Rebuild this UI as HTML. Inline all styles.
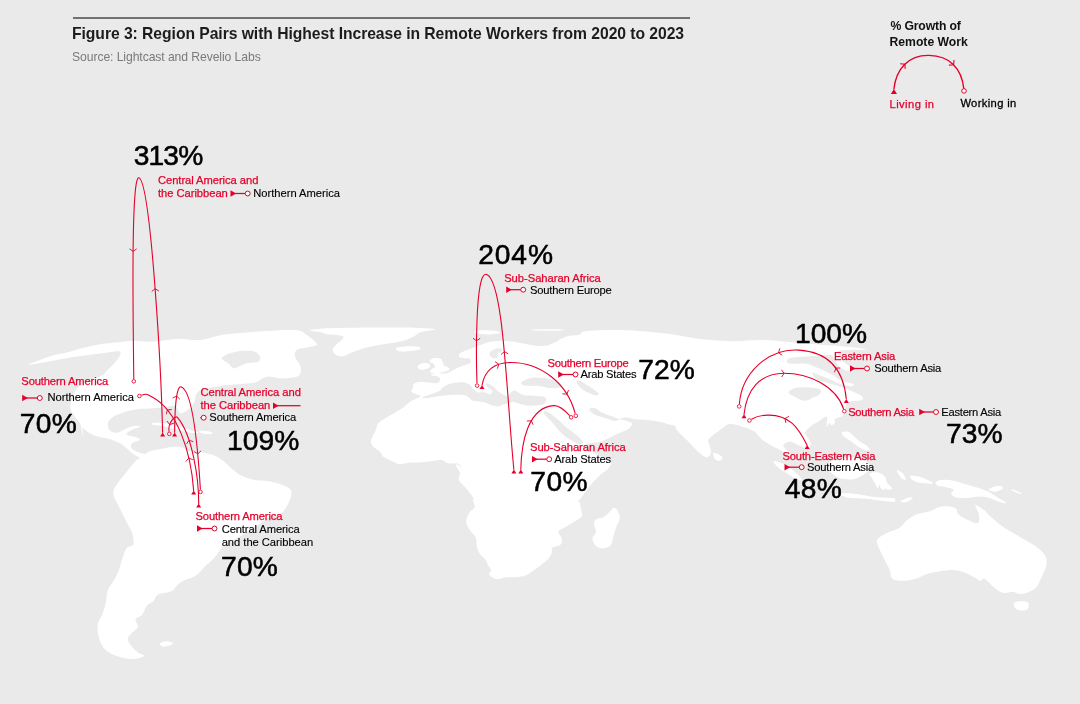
<!DOCTYPE html>
<html lang="en"><head><meta charset="utf-8"><title>Figure 3: Region Pairs with Highest Increase in Remote Workers</title>
<style>
html,body{margin:0;padding:0;}
body{width:1080px;height:704px;background:#eaeaea;position:relative;overflow:hidden;
 font-family:"Liberation Sans",Arial,sans-serif;}
svg#g{position:absolute;left:0;top:0;}
.t{position:absolute;white-space:nowrap;line-height:1;margin:0;}
.title{font-weight:bold;color:#1c1c1c;}
.src{color:#7a7a7a;}
.lgb{font-weight:bold;color:#111;}
.red{color:#e4002b;-webkit-text-stroke:0.25px #e4002b;}
.blk{color:#000;-webkit-text-stroke:0.12px #000;}
.blkm{color:#000;-webkit-text-stroke:0.3px #000;}
.big{color:#000;-webkit-text-stroke:0.55px #000;}
</style></head>
<body>
<svg id="g" width="1080" height="704" viewBox="0 0 1080 704">
<g id="map">
<path fill="#fff" d="M28.3 364.7C27.5 364.3 35.8 361.6 40.0 360.0C44.2 358.4 48.9 356.6 53.3 355.3C57.8 354.1 62.2 353.6 66.7 352.5C71.1 351.4 74.4 350.1 80.0 348.7C85.6 347.3 93.9 345.2 100.0 344.2C106.1 343.1 111.1 343.1 116.7 342.5C122.2 341.9 127.8 341.0 133.3 340.8C138.9 340.7 144.4 341.8 150.0 341.7C155.6 341.5 161.7 340.5 166.7 340.0C171.7 339.5 174.4 338.7 180.0 338.7C185.6 338.7 193.1 340.6 200.0 340.0C206.9 339.4 213.9 336.2 221.7 335.0C229.4 333.8 238.3 333.2 246.7 332.5C255.0 331.8 264.7 331.2 271.7 330.8C278.6 330.4 283.6 330.0 288.3 330.0C293.1 330.0 296.9 330.0 300.0 330.8C303.1 331.7 304.4 333.5 306.7 335.0C308.9 336.5 311.7 338.3 313.3 340.0C315.0 341.7 317.8 343.8 316.7 345.0C315.6 346.2 310.0 346.7 306.7 347.5C303.3 348.3 298.6 348.5 296.7 350.0C294.7 351.5 294.4 354.2 295.0 356.7C295.6 359.2 299.0 362.5 300.0 365.0C301.0 367.5 301.4 369.7 300.8 371.7C300.3 373.6 300.1 375.6 296.7 376.7C293.2 377.8 285.0 378.3 280.0 378.3C275.0 378.3 270.8 376.0 266.7 376.7C262.5 377.4 259.7 381.2 255.0 382.5C250.3 383.8 243.9 383.6 238.3 384.2C232.8 384.7 226.7 385.1 221.7 385.8C216.7 386.5 211.4 387.9 208.3 388.3C205.3 388.8 205.2 387.7 203.3 388.5C201.4 389.3 198.1 391.4 196.7 393.3C195.3 395.2 195.8 397.8 195.0 400.0C194.2 402.2 193.4 404.8 191.7 406.7C190.0 408.6 186.9 410.6 185.0 411.7C183.1 412.8 181.3 413.9 180.0 413.3C178.7 412.7 177.8 409.8 177.0 408.3C176.2 406.8 175.4 404.8 175.3 404.2C175.2 403.6 178.1 404.6 176.7 405.0C175.2 405.4 170.6 406.1 166.7 406.7C162.8 407.2 158.3 407.9 153.3 408.3C148.3 408.8 141.7 408.5 136.7 409.2C131.7 409.9 127.2 411.2 123.3 412.5C119.4 413.8 115.8 415.1 113.3 416.7C110.8 418.2 109.2 419.9 108.3 421.7C107.5 423.5 107.8 425.8 108.3 427.5C108.9 429.2 110.0 430.8 111.7 431.7C113.3 432.5 115.8 433.1 118.3 432.5C120.8 431.9 123.9 429.4 126.7 428.3C129.4 427.2 132.8 426.1 135.0 425.8C137.2 425.6 140.3 426.1 140.0 426.7C139.7 427.2 135.6 428.1 133.3 429.2C131.1 430.3 127.2 432.2 126.7 433.3C126.1 434.4 128.3 435.1 130.0 435.8C131.7 436.5 135.0 436.8 136.7 437.5C138.3 438.2 140.6 439.2 140.0 440.0C139.4 440.8 134.9 441.4 133.3 442.5C131.8 443.6 130.6 445.3 130.8 446.7C131.1 448.1 133.2 449.7 135.0 450.8C136.8 451.9 139.4 452.6 141.7 453.3C143.9 454.0 147.8 454.2 148.3 455.0C148.9 455.8 146.4 457.9 145.0 458.3C143.6 458.8 141.9 458.2 140.0 457.5C138.1 456.8 135.6 455.7 133.3 454.2C131.1 452.6 128.9 450.1 126.7 448.3C124.4 446.5 122.8 444.9 120.0 443.3C117.2 441.8 114.2 440.4 110.0 439.2C105.8 437.9 99.4 437.6 95.0 435.8C90.6 434.0 86.0 431.5 83.3 428.3C80.7 425.1 79.7 420.6 79.2 416.7C78.6 412.8 79.3 401.7 80.0 405.0C80.7 408.3 83.3 433.6 83.3 436.7C83.3 439.7 81.4 426.7 80.0 423.3C78.6 420.0 76.5 418.9 75.0 416.7C73.5 414.4 71.5 412.4 70.8 410.0C70.2 407.6 70.1 405.7 71.1 402.2C72.1 398.7 73.9 392.4 76.7 388.9C79.5 385.4 83.8 383.2 88.0 381.0C92.2 378.8 99.1 377.2 102.2 375.6C105.3 374.0 105.0 372.8 106.7 371.1C108.4 369.4 110.4 367.6 112.2 365.6C114.0 363.6 116.4 360.9 117.8 358.9C119.2 356.9 120.5 354.8 120.5 353.5C120.5 352.2 120.8 351.3 117.8 351.3C114.8 351.3 107.8 352.6 102.2 353.3C96.6 354.0 91.1 354.7 84.4 355.6C77.7 356.5 68.8 357.8 62.2 358.9C55.6 360.0 50.6 361.3 45.0 362.3C39.4 363.3 29.2 365.1 28.3 364.7Z M70.0 405.8C69.9 404.3 71.9 404.0 73.3 404.2C74.7 404.3 77.6 404.9 78.3 406.7C79.1 408.5 78.4 413.0 78.0 415.0C77.6 417.0 76.5 418.9 75.8 418.7C75.2 418.4 75.1 415.5 74.2 413.3C73.2 411.2 70.1 407.4 70.0 405.8Z M153.3 423.0C155.6 422.7 162.2 422.7 166.7 423.3C171.1 423.9 176.1 425.6 180.0 426.7C183.9 427.8 186.9 429.0 190.0 430.0C193.1 431.0 198.3 432.0 198.3 432.5C198.3 433.0 193.6 433.3 190.0 432.8C186.4 432.3 181.1 430.6 176.7 429.5C172.2 428.4 167.2 426.9 163.3 426.2C159.4 425.4 155.0 425.5 153.3 425.0C151.7 424.5 151.1 423.3 153.3 423.0Z M200.0 430.8C201.2 430.6 206.1 430.9 208.3 431.3C210.6 431.8 213.6 432.9 213.3 433.3C213.1 433.8 208.8 434.2 206.7 434.2C204.6 434.1 201.9 433.6 200.8 433.0C199.7 432.4 198.8 431.1 200.0 430.8Z M320.0 328.7C324.4 328.3 328.3 328.2 336.7 328.0C345.0 327.8 358.9 327.6 370.0 327.5C381.1 327.4 395.0 327.4 403.3 327.5C411.7 327.6 414.7 327.7 420.0 328.0C425.3 328.3 435.0 328.4 435.0 329.2C435.0 329.9 423.6 331.2 420.0 332.5C416.4 333.8 416.1 335.3 413.3 336.7C410.6 338.1 406.4 339.9 403.3 340.8C400.3 341.8 398.3 341.9 395.0 342.5C391.7 343.1 387.5 343.5 383.3 344.2C379.2 344.9 374.2 345.7 370.0 346.7C365.8 347.6 361.7 348.9 358.3 350.0C355.0 351.1 352.5 352.3 350.0 353.3C347.5 354.4 345.6 356.0 343.3 356.3C341.1 356.7 338.3 356.0 336.7 355.3C335.0 354.7 333.9 353.7 333.3 352.5C332.7 351.3 332.4 349.7 333.0 348.3C333.6 346.9 335.2 345.6 336.7 344.2C338.1 342.8 340.6 341.2 341.7 340.0C342.8 338.8 344.2 337.5 343.3 336.7C342.5 335.8 339.4 335.4 336.7 335.0C333.9 334.6 329.2 334.6 326.7 334.2C324.2 333.8 323.9 333.0 321.7 332.5C319.4 332.0 315.3 331.8 313.3 331.3C311.4 330.9 308.9 330.4 310.0 330.0C311.1 329.6 315.6 329.0 320.0 328.7Z M395.8 348.7C396.2 348.0 397.6 347.4 400.0 347.0C402.4 346.6 406.8 346.3 410.0 346.3C413.2 346.3 417.5 346.5 419.2 347.0C420.8 347.5 421.0 348.5 420.0 349.2C419.0 349.8 416.1 350.4 413.3 350.8C410.6 351.2 406.0 351.7 403.3 351.7C400.7 351.7 398.8 351.3 397.5 350.8C396.2 350.3 395.4 349.3 395.8 348.7Z M417.5 367.5C417.2 366.6 418.5 364.9 420.0 364.2C421.5 363.4 425.0 362.9 426.7 363.0C428.3 363.1 429.7 364.1 430.0 365.0C430.3 365.9 429.7 367.6 428.3 368.3C426.9 369.1 423.5 369.8 421.7 369.7C419.9 369.5 417.8 368.4 417.5 367.5Z M430.0 360.0C430.7 359.2 433.2 358.2 435.0 358.0C436.8 357.8 439.6 358.1 440.8 358.7C442.1 359.3 441.9 360.5 442.5 361.7C443.1 362.9 443.2 364.9 444.2 365.8C445.1 366.8 447.5 366.8 448.3 367.5C449.2 368.2 450.0 369.2 449.2 370.0C448.3 370.8 445.7 371.5 443.3 372.0C441.0 372.5 437.2 373.0 435.0 373.0C432.8 373.0 430.6 372.6 430.0 372.0C429.4 371.4 430.8 370.1 431.7 369.2C432.5 368.3 434.7 367.6 435.0 366.7C435.3 365.8 434.0 364.4 433.3 363.7C432.6 363.0 431.4 363.1 430.8 362.5C430.3 361.9 429.3 360.8 430.0 360.0Z M143.3 455.6C145.9 453.7 147.0 452.2 150.0 451.1C153.0 450.0 157.0 449.6 161.1 448.9C165.2 448.1 170.7 446.9 174.4 446.7C178.1 446.5 181.1 447.0 183.3 447.8C185.6 448.5 184.8 450.4 187.8 451.1C190.7 451.9 196.7 451.5 201.1 452.2C205.6 453.0 210.7 454.1 214.4 455.6C218.1 457.0 220.4 458.9 223.3 461.1C226.3 463.3 229.3 466.5 232.2 468.9C235.2 471.3 237.4 473.7 241.1 475.6C244.8 477.4 250.0 479.1 254.4 480.0C258.9 480.9 263.3 480.4 267.8 481.1C272.2 481.9 277.4 483.1 281.1 484.4C284.8 485.7 288.3 487.0 290.0 488.9C291.7 490.7 291.5 493.0 291.1 495.6C290.7 498.1 289.4 501.5 287.8 504.4C286.1 507.4 284.1 511.3 281.1 513.3C278.1 515.4 274.6 514.2 270.0 516.7C265.4 519.2 258.9 524.7 253.3 528.3C247.8 531.9 241.7 535.2 236.7 538.3C231.7 541.4 226.1 544.7 223.3 546.7C220.5 548.7 221.7 548.2 220.0 550.2C218.3 552.3 215.9 556.3 213.3 559.1C210.7 561.9 207.4 564.1 204.4 566.9C201.5 569.7 198.9 573.6 195.6 575.8C192.2 578.0 187.4 578.7 184.4 580.2C181.5 581.7 180.0 582.8 177.8 584.7C175.6 586.5 174.4 589.7 171.1 591.3C167.8 593.0 160.7 593.0 157.8 594.7C154.8 596.3 155.2 599.5 153.3 601.3C151.5 603.2 148.5 603.6 146.7 605.8C144.8 608.0 144.1 612.4 142.2 614.7C140.4 616.9 136.3 617.1 135.6 619.1C134.8 621.1 138.5 624.5 137.8 626.9C137.0 629.3 132.8 631.5 131.1 633.6C129.4 635.6 127.8 637.1 127.8 639.1C127.8 641.1 129.4 643.6 131.1 645.8C132.8 648.0 135.6 650.8 137.8 652.4C140.0 654.1 145.2 654.7 144.4 655.8C143.7 656.9 137.4 658.9 133.3 659.1C129.3 659.3 124.1 658.0 120.0 656.9C115.9 655.8 111.9 654.3 108.9 652.4C105.9 650.6 104.0 648.7 102.2 645.8C100.4 642.8 99.0 638.4 98.2 634.7C97.5 631.0 97.1 626.9 97.8 623.6C98.4 620.2 100.9 618.0 102.2 614.7C103.5 611.3 104.6 607.6 105.6 603.6C106.5 599.5 106.5 593.9 107.8 590.2C109.1 586.5 111.5 584.7 113.3 581.3C115.2 578.0 117.4 573.9 118.9 570.2C120.4 566.5 120.9 562.8 122.2 559.1C123.5 555.4 124.8 550.4 126.7 548.0C128.5 545.6 132.4 546.9 133.3 544.4C134.3 542.0 133.1 536.7 132.2 533.3C131.3 530.0 129.3 527.4 127.8 524.4C126.3 521.5 124.8 518.5 123.3 515.6C121.9 512.6 120.4 509.6 118.9 506.7C117.4 503.7 115.4 500.4 114.4 497.8C113.5 495.2 113.0 493.3 113.3 491.1C113.7 488.9 114.6 487.4 116.7 484.4C118.7 481.5 122.6 477.0 125.6 473.3C128.5 469.6 131.5 465.2 134.4 462.2C137.4 459.3 140.7 457.4 143.3 455.6Z M160.0 643.6C160.7 642.7 164.5 641.4 166.7 641.3C168.8 641.3 172.5 642.4 172.9 643.1C173.3 643.9 170.7 645.3 168.9 645.8C167.1 646.3 163.7 646.6 162.2 646.2C160.7 645.9 159.3 644.4 160.0 643.6Z M420.0 396.7C421.4 395.6 419.7 395.8 418.3 395.0C416.9 394.2 412.5 393.1 411.7 391.7C410.8 390.3 413.1 387.9 413.3 386.7C413.6 385.4 412.5 384.9 413.3 384.2C414.2 383.4 415.8 382.4 418.3 382.2C420.8 381.9 425.3 382.3 428.3 382.5C431.4 382.7 434.7 383.8 436.7 383.3C438.6 382.9 439.7 381.1 440.0 380.0C440.3 378.9 439.4 377.4 438.3 376.7C437.2 376.0 434.6 376.2 433.3 375.8C432.1 375.4 430.3 374.6 430.8 374.2C431.4 373.7 434.0 373.1 436.7 373.0C439.3 372.9 443.9 373.8 446.7 373.3C449.4 372.8 451.4 371.0 453.3 370.0C455.3 369.0 456.4 368.3 458.3 367.5C460.3 366.7 463.1 365.7 465.0 365.0C466.9 364.3 469.0 364.2 470.0 363.3C471.0 362.5 470.8 361.0 470.8 360.0C470.8 359.0 467.8 357.9 470.0 357.5C472.2 357.1 482.6 357.5 484.1 357.8C485.6 358.0 480.8 358.4 478.9 359.1C476.9 359.7 473.9 361.8 472.4 361.7C470.9 361.6 471.8 359.1 469.8 358.4C467.9 357.8 462.5 358.5 460.7 357.8C459.0 357.0 458.6 355.1 459.4 353.9C460.3 352.7 463.6 351.7 465.9 350.6C468.3 349.6 470.9 348.5 473.7 347.4C476.5 346.3 479.8 345.1 482.8 344.2C485.8 343.2 488.6 342.1 491.9 341.6C495.1 341.0 498.8 340.9 502.2 340.9C505.7 340.9 509.1 341.1 512.6 341.6C516.1 342.0 519.5 342.9 523.0 343.5C526.4 344.2 529.9 345.0 533.3 345.5C536.8 345.9 540.9 346.3 543.7 346.1C546.5 346.0 548.0 345.3 550.2 344.6C552.3 343.8 554.7 342.6 556.7 341.6C558.6 340.5 559.7 339.3 561.9 338.3C564.0 337.4 566.6 336.4 569.6 335.7C572.7 335.1 577.4 335.2 580.0 334.4C582.6 333.7 579.2 332.0 585.0 331.2C590.8 330.5 605.4 330.0 615.0 330.0C624.6 330.0 633.8 330.6 642.5 331.2C651.2 331.9 659.6 332.7 667.5 333.8C675.4 334.8 682.9 336.5 690.0 337.5C697.1 338.5 702.5 339.4 710.0 340.0C717.5 340.6 726.4 341.2 735.0 341.2C743.6 341.2 753.1 339.9 761.7 340.0C770.3 340.1 779.9 341.1 786.7 341.7C793.4 342.2 795.9 342.8 802.2 343.3C808.5 343.9 817.0 344.4 824.4 345.0C831.9 345.6 839.6 346.0 846.7 346.7C853.7 347.4 866.3 348.7 866.7 349.2C867.0 349.8 853.7 349.6 848.9 350.0C844.1 350.4 838.9 349.9 837.8 351.7C836.7 353.4 839.6 357.6 842.2 360.6C844.8 363.5 851.9 367.6 853.3 369.4C854.8 371.3 853.3 372.0 851.1 371.7C848.9 371.3 843.0 369.6 840.0 367.2C837.0 364.8 835.2 359.3 833.3 357.2C831.5 355.1 831.7 355.0 828.9 354.8C826.1 354.5 821.1 355.3 816.7 355.7C812.2 356.0 806.7 356.4 802.2 356.8C797.8 357.1 792.6 357.2 790.0 357.9C787.4 358.6 786.7 360.1 786.7 361.1C786.7 362.1 786.9 363.2 790.0 363.7C793.1 364.1 801.1 363.0 805.6 363.7C810.0 364.3 812.6 365.8 816.7 367.4C820.7 369.1 825.7 371.3 830.0 373.6C834.3 375.8 838.3 379.4 842.2 381.1C846.1 382.8 851.9 383.0 853.3 383.9C854.8 384.8 853.3 386.3 851.1 386.3C848.9 386.4 843.9 385.4 840.0 384.1C836.1 382.8 831.7 380.2 827.8 378.6C823.9 376.9 819.3 375.1 816.7 374.1C814.1 373.1 812.2 371.9 812.2 372.8C812.2 373.7 814.3 377.8 816.7 379.4C819.1 381.1 822.4 381.5 826.7 382.8C830.9 384.1 837.4 385.6 842.2 387.2C847.0 388.9 852.1 391.1 855.6 392.8C859.0 394.4 862.0 395.9 862.8 397.2C863.5 398.5 862.3 399.8 860.0 400.6C857.7 401.3 851.3 400.7 848.9 401.7C846.5 402.6 846.5 403.9 845.6 406.1C844.6 408.3 844.8 413.0 843.3 415.0C841.9 417.0 838.9 417.2 836.7 418.3C834.4 419.4 831.7 420.3 830.0 421.7C828.3 423.1 827.2 427.5 826.7 426.7C826.1 425.8 828.1 417.5 826.7 416.7C825.3 415.8 821.1 420.0 818.3 421.7C815.6 423.3 812.2 424.7 810.0 426.7C807.8 428.6 805.3 431.4 805.0 433.3C804.7 435.3 807.4 436.4 808.3 438.3C809.3 440.3 811.1 443.3 810.8 445.0C810.6 446.7 808.8 448.3 806.7 448.3C804.6 448.3 801.1 446.1 798.3 445.0C795.6 443.9 792.5 441.7 790.0 441.7C787.5 441.7 783.9 443.6 783.3 445.0C782.8 446.4 785.0 447.9 786.7 450.0C788.3 452.1 792.8 456.7 793.3 457.5C793.9 458.3 791.7 456.0 790.0 455.0C788.3 454.0 785.6 452.8 783.3 451.7C781.1 450.6 778.9 449.5 776.7 448.3C774.4 447.2 772.5 446.2 770.0 444.7C767.5 443.1 764.4 441.5 761.7 439.2C758.9 436.9 757.5 433.2 753.3 430.8C749.2 428.5 741.1 426.2 736.7 425.0C732.2 423.8 727.2 423.9 726.7 423.3C726.1 422.8 733.3 421.4 733.3 421.7C733.3 421.9 728.9 423.6 726.7 425.0C724.4 426.4 722.2 428.3 720.0 430.0C717.8 431.7 715.3 433.3 713.3 435.0C711.4 436.7 708.9 438.1 708.3 440.0C707.8 441.9 709.6 444.4 710.0 446.7C710.4 448.9 711.4 451.5 710.8 453.3C710.3 455.1 708.5 457.5 706.7 457.5C704.9 457.5 702.2 455.1 700.0 453.3C697.8 451.5 695.6 448.9 693.3 446.7C691.1 444.4 688.6 441.9 686.7 440.0C684.7 438.1 683.3 436.7 681.7 435.0C680.0 433.3 677.8 431.5 676.7 430.0C675.6 428.5 676.4 426.8 675.0 425.8C673.6 424.9 670.8 424.9 668.3 424.2C665.8 423.5 663.6 422.4 660.0 421.7C656.4 421.0 650.8 420.4 646.7 420.0C642.5 419.6 638.3 419.6 635.0 419.2C631.7 418.8 629.4 417.5 626.7 417.5C623.9 417.5 618.9 418.8 618.3 419.2C617.8 419.6 621.1 419.4 623.3 420.0C625.6 420.6 630.6 421.8 631.7 423.0C632.8 424.2 631.1 426.2 630.0 427.5C628.9 428.8 627.2 429.7 625.0 430.8C622.8 431.9 619.4 432.9 616.7 434.2C613.9 435.4 611.1 437.1 608.3 438.3C605.6 439.6 603.1 440.9 600.0 441.7C596.9 442.4 593.1 442.3 590.0 443.0C586.9 443.7 583.2 445.2 581.7 445.8C580.2 446.4 579.3 445.5 581.0 446.5C582.7 447.5 588.3 450.2 592.0 452.0C595.7 453.8 599.8 455.8 603.0 457.5C606.2 459.2 610.2 460.6 611.0 462.5C611.8 464.4 609.5 467.2 608.0 469.0C606.5 470.8 605.0 470.8 602.2 473.3C599.4 475.9 594.1 481.1 591.1 484.4C588.1 487.8 586.7 490.4 584.4 493.3C582.2 496.3 578.6 500.8 577.8 502.2C577.0 503.7 579.2 501.0 579.7 502.0C580.2 503.0 580.4 505.8 580.7 508.1C581.1 510.5 582.8 514.1 581.8 516.3C580.7 518.5 577.2 519.7 574.6 521.4C572.1 523.1 569.2 524.8 566.5 526.5C563.8 528.2 559.1 529.5 558.3 531.6C557.6 533.6 561.7 536.5 562.0 538.7C562.3 540.9 562.0 543.3 560.4 544.8C558.7 546.3 553.7 546.5 552.2 547.9C550.8 549.2 552.5 551.1 551.8 553.0C551.1 554.8 549.8 557.2 548.2 559.1C546.5 560.9 544.4 562.3 542.0 564.2C539.7 566.0 536.6 568.4 533.9 570.3C531.2 572.1 528.8 574.3 525.7 575.4C522.7 576.5 519.0 576.7 515.6 577.0C512.2 577.3 508.6 577.1 505.4 577.4C502.1 577.7 498.9 579.5 496.2 579.0C493.5 578.5 489.9 575.8 489.1 574.4C488.2 572.9 491.3 571.8 491.1 570.3C490.9 568.8 489.1 567.1 488.1 565.2C487.0 563.3 486.4 560.9 485.0 559.1C483.6 557.2 481.3 556.0 479.9 554.0C478.6 551.9 477.5 549.6 476.9 546.9C476.2 544.1 476.7 540.1 475.8 537.7C475.0 535.3 473.1 534.5 471.8 532.6C470.4 530.7 468.6 528.5 467.7 526.5C466.8 524.4 465.9 522.7 466.3 520.4C466.6 518.0 468.3 514.4 469.7 512.2C471.1 510.0 474.3 509.2 474.8 507.1C475.3 505.1 473.0 501.6 472.8 500.0C472.5 498.4 474.4 499.6 473.3 497.8C472.3 495.9 469.1 491.9 466.7 488.9C464.3 485.9 460.0 482.6 458.9 480.0C457.8 477.4 460.6 475.9 460.0 473.3C459.4 470.7 455.3 465.6 455.6 464.4C455.8 463.3 461.5 466.9 461.7 466.7C461.9 466.5 458.9 463.9 456.7 463.3C454.4 462.8 450.8 463.9 448.3 463.3C445.8 462.8 444.2 460.4 441.7 460.0C439.2 459.6 436.9 460.4 433.3 460.8C429.7 461.2 423.9 462.2 420.0 462.5C416.1 462.8 413.3 462.2 410.0 462.5C406.7 462.8 402.8 464.3 400.0 464.2C397.2 464.0 396.1 462.9 393.3 461.7C390.6 460.4 385.6 458.3 383.3 456.7C381.1 455.0 381.7 453.3 380.0 451.7C378.3 450.0 374.9 448.3 373.3 446.7C371.8 445.0 371.0 443.3 370.8 441.7C370.7 440.0 371.7 438.6 372.5 436.7C373.3 434.7 374.9 432.2 375.8 430.0C376.8 427.8 376.5 425.4 378.3 423.3C380.1 421.2 383.9 419.3 386.7 417.5C389.4 415.7 392.2 414.2 395.0 412.5C397.8 410.8 400.8 409.3 403.3 407.5C405.8 405.7 407.2 403.5 410.0 401.7C412.8 399.9 418.6 397.8 420.0 396.7Z M464.7 384.4C465.0 383.2 466.5 383.0 466.9 384.0C467.4 385.0 467.7 389.3 467.4 390.5C467.2 391.7 465.8 392.1 465.4 391.1C464.9 390.1 464.5 385.6 464.7 384.4Z M474.4 331.2C475.2 330.6 480.3 330.3 484.1 330.3C487.9 330.3 494.4 330.7 497.0 331.2C499.6 331.7 500.9 332.6 499.6 333.1C498.3 333.7 492.7 334.3 489.3 334.4C485.8 334.6 481.4 334.3 478.9 333.8C476.4 333.3 473.5 331.8 474.4 331.2Z M533.3 329.6C535.1 329.4 539.0 329.3 543.7 329.3C548.5 329.2 558.8 329.3 561.9 329.5C564.9 329.7 564.9 330.2 561.9 330.4C558.8 330.6 548.5 330.7 543.7 330.7C539.0 330.7 535.1 330.7 533.3 330.6C531.6 330.4 531.6 329.9 533.3 329.6Z M713.3 453.3C713.9 452.5 716.8 453.5 718.3 454.2C719.9 454.9 722.2 456.4 722.5 457.5C722.8 458.6 721.2 460.6 720.0 460.8C718.8 461.1 716.1 460.4 715.0 459.2C713.9 457.9 712.8 454.2 713.3 453.3Z M614.4 507.7C615.9 507.7 617.5 510.5 618.4 512.2C619.3 514.0 620.2 516.0 619.9 518.3C619.5 520.7 617.5 523.4 616.4 526.5C615.3 529.5 614.4 533.4 613.3 536.7C612.3 539.9 612.1 543.9 610.3 545.8C608.4 547.8 604.5 548.5 602.1 548.5C599.8 548.5 597.7 547.5 596.0 545.8C594.4 544.2 592.4 541.1 592.4 538.7C592.4 536.3 595.7 534.0 596.0 531.6C596.3 529.2 594.0 526.5 594.0 524.4C594.0 522.4 594.5 520.5 596.0 519.4C597.5 518.2 600.9 518.5 603.2 517.3C605.4 516.1 607.4 513.8 609.3 512.2C611.1 510.6 612.8 507.7 614.4 507.7Z M877.8 538.7C879.5 536.9 883.8 534.5 887.4 532.7C891.0 530.9 896.2 529.9 899.4 527.9C902.7 525.9 903.9 522.9 906.7 520.6C909.5 518.4 912.3 516.2 916.3 514.6C920.3 513.0 927.1 512.2 930.7 511.0C934.3 509.8 935.2 508.2 938.0 507.4C940.8 506.6 944.6 506.0 947.6 506.2C950.6 506.4 954.2 507.2 956.0 508.6C957.8 510.0 956.6 512.8 958.4 514.6C960.2 516.4 963.6 518.0 966.8 519.4C970.1 520.8 975.7 523.9 977.7 523.1C979.7 522.3 979.3 517.6 978.9 514.6C978.5 511.6 974.5 505.8 975.3 505.0C976.1 504.2 981.1 507.8 983.7 509.8C986.3 511.8 987.7 514.2 990.9 517.0C994.1 519.8 998.9 523.9 1003.0 526.7C1007.0 529.5 1011.0 531.5 1015.0 533.9C1019.0 536.3 1023.4 538.9 1027.0 541.1C1030.6 543.3 1033.6 544.7 1036.7 547.1C1039.7 549.5 1043.5 552.5 1045.1 555.6C1046.7 558.6 1046.9 561.6 1046.3 565.2C1045.7 568.8 1043.1 573.6 1041.5 577.2C1039.9 580.8 1038.7 584.4 1036.7 586.8C1034.7 589.3 1032.2 590.5 1029.4 591.7C1026.6 592.9 1022.6 594.1 1019.8 594.1C1017.0 594.1 1015.4 591.9 1012.6 591.7C1009.8 591.5 1006.2 593.7 1003.0 592.9C999.7 592.1 995.7 588.7 993.3 586.8C990.9 585.0 990.1 583.4 988.5 582.0C986.9 580.6 985.1 578.6 983.7 578.4C982.3 578.2 981.7 581.0 980.1 580.8C978.5 580.6 976.7 578.6 974.1 577.2C971.5 575.8 968.1 573.6 964.4 572.4C960.8 571.2 956.4 570.2 952.4 570.0C948.4 569.8 944.4 570.6 940.4 571.2C936.4 571.8 932.3 572.4 928.3 573.6C924.3 574.8 920.7 577.2 916.3 578.4C911.9 579.6 905.9 580.8 901.8 580.8C897.8 580.8 894.2 580.2 892.2 578.4C890.2 576.6 891.0 573.0 889.8 570.0C888.6 567.0 886.6 563.6 885.0 560.4C883.4 557.2 881.5 553.5 880.2 550.7C878.9 547.9 877.7 545.5 877.3 543.5C876.9 541.5 876.1 540.5 877.8 538.7Z M1013.8 603.7C1014.2 602.3 1017.4 601.5 1019.8 601.3C1022.2 601.1 1027.0 601.1 1028.2 602.5C1029.4 603.9 1028.8 608.5 1027.0 609.7C1025.2 610.9 1019.6 610.7 1017.4 609.7C1015.2 608.7 1013.4 605.1 1013.8 603.7Z M935.6 482.1C936.4 481.1 939.6 479.9 942.8 479.7C946.0 479.5 950.8 480.1 954.8 480.9C958.8 481.7 962.8 483.3 966.8 484.5C970.9 485.7 975.3 486.9 978.9 488.1C982.5 489.4 985.3 490.2 988.5 491.8C991.7 493.4 995.1 495.9 998.1 497.8C1001.2 499.7 1006.6 502.5 1006.6 503.1C1006.6 503.7 1001.2 502.3 998.1 501.4C995.1 500.5 991.7 498.6 988.5 497.8C985.3 497.0 982.1 496.6 978.9 496.6C975.7 496.6 972.9 497.6 969.3 497.8C965.6 498.0 960.2 498.4 957.2 497.8C954.2 497.2 951.8 495.6 951.2 494.2C950.6 492.8 954.6 490.6 953.6 489.4C952.6 488.1 947.8 487.5 945.2 486.9C942.6 486.3 939.6 486.5 938.0 485.7C936.4 484.9 934.7 483.1 935.6 482.1Z M988.5 489.4C988.9 488.3 995.7 485.9 998.1 485.7C1000.5 485.5 1003.4 487.1 1003.0 488.1C1002.6 489.1 998.1 491.6 995.7 491.8C993.3 492.0 988.1 490.4 988.5 489.4Z M1012.6 489.4C1014.1 489.8 1019.8 492.2 1021.0 493.0C1022.2 493.7 1021.3 494.3 1019.8 493.9C1018.3 493.5 1013.3 491.3 1012.1 490.6C1010.9 489.8 1011.1 488.9 1012.6 489.4Z M900.6 501.4C900.8 500.7 905.9 498.4 907.9 497.8C909.9 497.2 912.9 497.1 912.7 497.8C912.5 498.5 908.7 501.5 906.7 502.1C904.7 502.7 900.4 502.1 900.6 501.4Z M841.7 494.2C843.3 493.8 852.5 495.3 858.5 495.8C864.5 496.4 871.8 496.9 877.8 497.3C883.8 497.7 892.6 497.8 894.6 498.3C896.6 498.7 894.2 500.1 889.8 500.2C885.4 500.3 875.0 499.4 868.1 499.0C861.3 498.6 853.3 498.6 848.9 497.8C844.5 497.0 840.1 494.5 841.7 494.2Z M871.8 476.1C872.8 474.9 878.0 474.1 880.2 474.9C882.4 475.7 883.0 478.7 885.0 480.9C887.0 483.1 891.8 486.7 892.2 488.1C892.6 489.6 889.4 490.0 887.4 489.4C885.4 488.7 881.8 484.7 880.2 484.5C878.6 484.3 878.8 488.5 877.8 488.1C876.8 487.7 875.2 484.1 874.2 482.1C873.2 480.1 870.8 477.3 871.8 476.1Z M897.0 470.1C897.8 470.1 901.6 472.1 903.1 473.7C904.5 475.3 905.7 478.9 905.5 479.7C905.3 480.5 903.1 479.5 901.8 478.5C900.6 477.5 899.0 475.1 898.2 473.7C897.4 472.3 896.2 470.1 897.0 470.1Z M910.3 476.1C911.5 475.5 917.3 476.1 921.1 477.3C924.9 478.5 932.7 482.3 933.1 483.3C933.5 484.3 926.7 483.7 923.5 483.3C920.3 482.9 916.1 482.1 913.9 480.9C911.7 479.7 909.1 476.7 910.3 476.1Z M773.3 461.7C773.6 460.8 777.2 461.4 780.0 462.5C782.8 463.6 786.9 466.2 790.0 468.3C793.1 470.4 796.4 473.1 798.3 475.0C800.3 476.9 801.9 479.3 801.7 480.0C801.4 480.7 799.2 480.3 796.7 479.2C794.2 478.1 789.7 475.3 786.7 473.3C783.6 471.4 780.6 469.4 778.3 467.5C776.1 465.6 773.1 462.5 773.3 461.7Z M828.3 463.3C830.4 461.7 835.8 459.3 840.0 458.3C844.2 457.4 848.9 456.9 853.3 457.5C857.8 458.1 863.9 459.9 866.7 461.7C869.4 463.5 870.6 466.1 870.0 468.3C869.4 470.6 866.1 473.2 863.3 475.0C860.6 476.8 857.2 478.6 853.3 479.2C849.4 479.7 843.6 479.3 840.0 478.3C836.4 477.4 833.8 475.0 831.7 473.3C829.6 471.7 828.1 470.0 827.5 468.3C826.9 466.7 826.2 465.0 828.3 463.3Z M841.7 432.5C842.2 431.5 846.4 431.1 848.3 431.7C850.3 432.2 851.4 434.2 853.3 435.8C855.3 437.5 857.8 440.0 860.0 441.7C862.2 443.3 865.0 444.4 866.7 445.8C868.3 447.2 870.3 449.3 870.0 450.0C869.7 450.7 866.9 450.6 865.0 450.0C863.1 449.4 860.6 448.1 858.3 446.7C856.1 445.3 853.9 443.2 851.7 441.7C849.4 440.1 846.7 439.0 845.0 437.5C843.3 436.0 841.1 433.5 841.7 432.5Z M836.7 494.2C838.9 493.8 845.0 493.1 850.0 493.3C855.0 493.6 861.1 495.0 866.7 495.8C872.2 496.7 878.6 497.6 883.3 498.3C888.1 499.0 893.3 499.4 895.0 500.0C896.7 500.6 895.8 501.6 893.3 501.7C890.8 501.8 885.0 501.1 880.0 500.5C875.0 499.9 868.6 499.0 863.3 498.3C858.1 497.7 852.8 497.1 848.3 496.7C843.9 496.2 838.6 496.2 836.7 495.8C834.7 495.4 834.4 494.6 836.7 494.2Z M870.0 473.3C871.2 472.6 875.8 471.9 878.3 472.5C880.8 473.1 883.6 474.9 885.0 476.7C886.4 478.5 886.8 481.1 886.7 483.3C886.5 485.6 885.3 489.4 884.2 490.0C883.1 490.6 880.6 488.3 880.0 486.7C879.4 485.0 881.7 481.4 880.8 480.0C880.0 478.6 876.7 478.9 875.0 478.3C873.3 477.8 871.7 477.5 870.8 476.7C870.0 475.8 868.8 474.0 870.0 473.3Z M829.2 418.3C829.9 417.5 832.4 416.8 833.3 417.5C834.3 418.2 835.3 421.2 835.0 422.5C834.7 423.8 832.6 425.0 831.7 425.0C830.7 425.0 829.6 423.6 829.2 422.5C828.8 421.4 828.5 419.2 829.2 418.3Z"/>
<path fill="#eaeaea" d="M221.7 358.3C221.9 356.7 226.4 354.6 230.0 353.3C233.6 352.1 239.2 351.1 243.3 350.8C247.5 350.6 252.2 350.7 255.0 351.7C257.8 352.6 259.4 355.0 260.0 356.7C260.6 358.3 260.6 360.6 258.3 361.7C256.1 362.8 250.0 362.5 246.7 363.3C243.3 364.2 240.6 365.8 238.3 366.7C236.1 367.5 235.0 368.9 233.3 368.3C231.7 367.8 230.3 365.0 228.3 363.3C226.4 361.7 221.4 360.0 221.7 358.3Z M422.6 397.2C423.9 396.5 428.9 395.0 431.7 394.0C434.5 392.9 437.6 392.2 439.4 391.1C441.3 390.0 440.7 388.7 442.7 387.5C444.6 386.2 447.8 384.5 451.1 383.6C454.5 382.7 459.8 382.1 462.8 382.3C465.8 382.5 467.4 383.4 469.3 384.6C471.1 385.9 472.3 388.5 473.8 389.8C475.3 391.1 476.5 392.0 478.3 392.4C480.2 392.8 482.9 392.1 484.8 392.4C486.8 392.7 488.7 394.2 490.0 394.0C491.3 393.7 492.8 392.1 492.6 391.1C492.4 390.1 489.9 389.0 488.7 387.9C487.5 386.8 485.7 385.4 485.5 384.6C485.2 383.9 486.2 383.1 487.4 383.3C488.6 383.6 490.9 384.6 492.6 385.9C494.3 387.2 496.1 389.7 497.8 391.1C499.5 392.5 501.2 393.5 503.0 394.4C504.7 395.2 506.9 396.6 508.2 396.3C509.4 396.0 509.7 393.4 510.7 392.4C511.8 391.4 513.3 390.5 514.6 390.5C515.9 390.5 517.0 391.7 518.5 392.4C520.0 393.2 521.5 394.5 523.7 395.0C525.9 395.5 528.9 395.4 531.5 395.6C534.1 395.9 537.1 396.1 539.3 396.3C541.4 396.5 543.3 396.5 544.4 396.9C545.6 397.4 546.3 397.9 546.4 398.9C546.5 399.9 545.9 401.8 545.1 402.8C544.3 403.8 543.7 404.2 541.9 404.7C540.0 405.2 536.7 405.5 534.1 405.6C531.5 405.7 528.9 405.7 526.3 405.4C523.7 405.0 520.7 404.0 518.5 403.4C516.4 402.8 514.8 401.9 513.3 401.7C511.8 401.6 511.2 402.3 509.4 402.8C507.7 403.3 504.9 404.1 503.0 404.7C501.0 405.3 499.5 406.3 497.8 406.4C496.1 406.6 494.3 406.1 492.6 405.6C490.9 405.1 488.9 404.0 487.4 403.4C485.9 402.8 485.2 402.5 483.5 402.1C481.8 401.8 479.0 401.4 477.0 401.2C475.1 401.0 473.0 401.3 471.9 400.8C470.7 400.3 471.0 399.1 469.9 398.2C468.8 397.4 467.2 396.2 465.4 395.6C463.5 395.1 461.5 394.9 458.9 394.7C456.3 394.6 453.1 394.8 449.8 395.0C446.6 395.2 442.7 395.6 439.4 396.0C436.2 396.5 433.0 397.2 430.4 397.6C427.8 398.0 425.2 398.3 423.9 398.2C422.6 398.2 421.3 397.9 422.6 397.2Z M521.1 382.7C521.5 381.7 524.1 380.3 526.3 379.4C528.5 378.6 531.1 377.7 534.1 377.5C537.1 377.3 541.0 377.6 544.4 378.1C547.9 378.7 552.1 379.8 554.8 380.7C557.5 381.7 559.7 382.9 560.7 384.0C561.6 385.1 562.5 386.6 560.7 387.2C558.8 387.9 553.2 388.1 549.6 387.9C546.1 387.7 542.5 386.3 539.3 385.9C536.0 385.6 532.8 386.0 530.2 385.9C527.6 385.8 525.2 385.8 523.7 385.3C522.2 384.7 520.7 383.7 521.1 382.7Z M543.5 412.5C543.6 411.6 545.2 410.6 547.6 411.8C550.0 413.0 554.6 416.8 557.8 419.5C561.0 422.2 564.2 425.5 567.0 427.8C569.8 430.1 572.2 431.7 574.4 433.4C576.6 435.1 578.6 436.4 580.0 438.0C581.4 439.6 583.3 442.0 583.0 443.0C582.7 444.0 580.5 444.7 578.1 444.0C575.8 443.3 571.8 440.9 568.9 439.0C566.0 437.1 563.2 435.1 560.6 432.5C558.0 429.9 555.4 425.9 553.1 423.3C550.8 420.7 548.6 418.8 547.0 417.0C545.4 415.2 543.4 413.4 543.5 412.5Z M576.7 382.5C576.4 381.2 578.3 380.4 580.0 380.8C581.7 381.2 584.4 383.6 586.7 385.0C588.9 386.4 591.3 387.8 593.3 389.2C595.3 390.6 598.2 392.3 598.7 393.3C599.1 394.4 597.6 395.4 595.8 395.3C594.1 395.2 590.7 393.9 588.3 392.8C586.0 391.7 583.6 390.4 581.7 388.7C579.7 386.9 576.9 383.8 576.7 382.5Z M589.2 409.2C589.7 408.4 592.6 407.6 595.0 408.3C597.4 409.0 600.0 411.8 603.3 413.3C606.7 414.9 612.4 416.5 615.0 417.5C617.6 418.5 618.7 418.8 618.7 419.3C618.7 419.9 617.0 421.1 615.0 421.0C613.0 420.9 609.4 419.3 606.7 418.5C603.9 417.7 600.8 417.0 598.3 416.0C595.8 415.0 593.2 413.8 591.7 412.7C590.1 411.5 588.6 409.9 589.2 409.2Z M489.3 353.9C489.4 352.8 490.6 351.6 491.9 350.6C493.2 349.7 495.3 348.7 497.0 348.4C498.8 348.2 501.6 348.4 502.2 349.0C502.9 349.5 501.8 351.1 500.9 351.9C500.1 352.8 497.5 353.0 497.0 353.9C496.6 354.8 498.8 356.4 498.3 357.1C497.9 357.9 495.6 358.4 494.4 358.4C493.3 358.4 492.1 357.9 491.2 357.1C490.3 356.4 489.2 355.0 489.3 353.9Z M790.0 390.6C791.3 389.6 793.7 388.3 796.7 387.8C799.6 387.2 804.4 387.1 807.8 387.2C811.1 387.3 814.4 387.8 816.7 388.3C818.9 388.9 820.7 389.4 821.1 390.6C821.5 391.7 820.2 393.9 818.9 395.0C817.6 396.1 815.4 396.3 813.3 397.2C811.3 398.1 808.9 400.2 806.7 400.6C804.4 400.9 802.2 400.2 800.0 399.4C797.8 398.7 795.2 397.1 793.3 396.1C791.5 395.1 789.4 394.3 788.9 393.3C788.3 392.4 788.7 391.5 790.0 390.6Z"/>
</g>
<path d="M73 18H690" stroke="#484848" stroke-width="1.3"/>
<g id="arcs" fill="none" stroke="#e4002b" stroke-width="1">
<path d="M162.6 432.8C161.2 368.7 150.9 185.3 139.2 177.9C130.9 172.5 133.0 314.8 133.8 379.0" stroke-width="1.1"/>
<path d="M158.9 291.0L155.1 288.7L151.7 291.5" stroke-width="0.9"/>
<path d="M129.5 248.8L133.1 251.4L136.7 248.8" stroke-width="0.9"/>
<path d="M162.6 432.5L165.1 436.4L160.1 436.4Z" fill="#e4002b" stroke="none"/>
<circle cx="133.8" cy="381.3" r="1.8" stroke-width="0.85" fill="#fff"/>
<path d="M174.6 432.8C174.7 418.7 175.3 384.5 181.4 386.9C193.7 391.6 198.3 454.6 200.4 489.6" stroke-width="1.1"/>
<path d="M179.8 399.2L176.7 396.1L172.7 398.0" stroke-width="0.9"/>
<path d="M193.9 451.5L197.8 453.8L201.1 450.8" stroke-width="0.9"/>
<path d="M174.6 432.5L177.1 436.4L172.1 436.4Z" fill="#e4002b" stroke="none"/>
<circle cx="200.5" cy="491.9" r="1.8" stroke-width="0.85" fill="#fff"/>
<path d="M193.7 490.9C190.9 451.1 177.3 410.1 151.7 396.7C147.0 394.2 146.6 393.4 141.6 395.2" stroke-width="1.1"/>
<path d="M192.9 459.8L188.8 458.0L185.9 461.4" stroke-width="0.9"/>
<path d="M171.8 409.6L167.4 409.9L166.3 414.2" stroke-width="0.9"/>
<path d="M193.7 490.6L196.2 494.5L191.2 494.5Z" fill="#e4002b" stroke="none"/>
<circle cx="139.4" cy="396.0" r="1.8" stroke-width="0.85" fill="#fff"/>
<path d="M198.7 503.9C198.9 479.1 192.4 434.6 177.2 417.2C175.8 415.5 167.6 421.7 169.0 431.6" stroke-width="1.1"/>
<path d="M193.3 441.7L189.1 440.3L186.5 443.9" stroke-width="0.9"/>
<path d="M167.0 421.0L169.6 424.6L173.9 423.2" stroke-width="0.9"/>
<path d="M198.7 503.6L201.2 507.5L196.2 507.5Z" fill="#e4002b" stroke="none"/>
<circle cx="169.3" cy="433.9" r="1.8" stroke-width="0.85" fill="#fff"/>
<path d="M513.9 469.8C506.5 396.5 503.9 282.7 486.9 274.5C474.3 268.5 476.4 367.1 477.0 383.3" stroke-width="1.1"/>
<path d="M508.2 353.8L504.4 351.6L501.0 354.5" stroke-width="0.9"/>
<path d="M473.0 338.2L476.5 340.8L480.2 338.3" stroke-width="0.9"/>
<path d="M513.9 469.5L516.4 473.4L511.4 473.4Z" fill="#e4002b" stroke="none"/>
<circle cx="477.1" cy="385.6" r="1.8" stroke-width="0.85" fill="#fff"/>
<path d="M482.0 385.5C484.8 369.1 495.7 362.5 511.2 362.5C540.0 362.5 567.3 382.9 575.2 413.6" stroke-width="1.1"/>
<path d="M497.4 368.6L498.8 364.3L495.1 361.7" stroke-width="0.9"/>
<path d="M562.4 393.8L566.9 394.1L568.5 390.0" stroke-width="0.9"/>
<path d="M482.0 385.2L484.5 389.1L479.5 389.1Z" fill="#e4002b" stroke="none"/>
<circle cx="575.8" cy="415.8" r="1.8" stroke-width="0.85" fill="#fff"/>
<path d="M520.8 469.8C521.3 442.7 527.9 406.9 554.1 405.6C560.0 405.3 565.7 411.3 569.6 415.6" stroke-width="1.1"/>
<path d="M533.1 424.7L531.3 420.7L526.9 421.1" stroke-width="0.9"/>
<path d="M520.8 469.5L523.3 473.4L518.3 473.4Z" fill="#e4002b" stroke="none"/>
<circle cx="571.1" cy="417.3" r="1.8" stroke-width="0.85" fill="#fff"/>
<path d="M846.3 399.3C843.5 368.3 827.4 351.9 798.9 350.1C767.8 348.0 741.4 373.5 739.4 404.1" stroke-width="1.1"/>
<path d="M840.3 368.0L835.9 368.1L834.5 372.3" stroke-width="0.9"/>
<path d="M779.9 348.4L778.5 352.7L782.2 355.3" stroke-width="0.9"/>
<path d="M846.3 399.0L848.8 402.9L843.8 402.9Z" fill="#e4002b" stroke="none"/>
<circle cx="739.2" cy="406.4" r="1.8" stroke-width="0.85" fill="#fff"/>
<path d="M744.0 414.6C746.6 389.9 759.5 373.4 784.1 373.3C808.1 373.3 835.7 385.5 843.6 409.0" stroke-width="1.1"/>
<path d="M781.6 377.0L784.1 373.3L781.5 369.8" stroke-width="0.9"/>
<path d="M744.0 414.3L746.5 418.2L741.5 418.2Z" fill="#e4002b" stroke="none"/>
<circle cx="844.3" cy="411.2" r="1.8" stroke-width="0.85" fill="#fff"/>
<path d="M807.2 445.4C798.4 427.9 789.4 414.5 767.5 415.1C758.9 415.3 754.9 417.2 751.4 419.3" stroke-width="1.1"/>
<path d="M788.9 416.4L785.0 418.5L785.8 422.9" stroke-width="0.9"/>
<path d="M807.2 445.1L809.7 449.0L804.7 449.0Z" fill="#e4002b" stroke="none"/>
<circle cx="749.4" cy="420.5" r="1.8" stroke-width="0.85" fill="#fff"/>
<path d="M893.9 89.3C896.0 68.8 908.6 55.0 929.0 55.4C949.4 55.8 961.6 67.9 963.8 88.6" stroke-width="1.4"/>
<path d="M905.2 68.9L904.9 64.2L900.2 63.7" stroke-width="1.1"/>
<path d="M948.9 65.1L953.6 64.7L954.0 60.0" stroke-width="1.1"/>
<path d="M893.9 89.0L897.0 93.9L890.8 93.9Z" fill="#e4002b" stroke="none"/>
<circle cx="964.0" cy="90.9" r="2.3" stroke-width="1.0" fill="#fff"/>
</g>
<g id="markers">
<path d="M230.5 190.3L236.1 193.5L230.5 196.7Z" fill="#e4002b"/>
<path d="M232.5 193.5H245.29999999999998" stroke="#e4002b" stroke-width="1.25" fill="none"/>
<circle cx="247.7" cy="193.5" r="2.45" fill="#fff" stroke="#e4002b" stroke-width="1.0"/>
<path d="M22.2 394.8L27.799999999999997 398L22.2 401.2Z" fill="#e4002b"/>
<path d="M24.2 398H37.4" stroke="#e4002b" stroke-width="1.25" fill="none"/>
<circle cx="39.8" cy="398" r="2.45" fill="#fff" stroke="#e4002b" stroke-width="1.0"/>
<path d="M273 402.5L278.6 405.7L273 408.9Z" fill="#e4002b"/>
<path d="M275 405.7H300.5" stroke="#e4002b" stroke-width="1.25" fill="none"/>
<path d="M197 525.3L202.6 528.5L197 531.7Z" fill="#e4002b"/>
<path d="M199 528.5H212.1" stroke="#e4002b" stroke-width="1.25" fill="none"/>
<circle cx="214.5" cy="528.5" r="2.45" fill="#fff" stroke="#e4002b" stroke-width="1.0"/>
<path d="M506.2 286.5L511.8 289.7L506.2 292.9Z" fill="#e4002b"/>
<path d="M508.2 289.7H520.8000000000001" stroke="#e4002b" stroke-width="1.25" fill="none"/>
<circle cx="523.2" cy="289.7" r="2.45" fill="#fff" stroke="#e4002b" stroke-width="1.0"/>
<path d="M558.2 371.3L563.8000000000001 374.5L558.2 377.7Z" fill="#e4002b"/>
<path d="M560.2 374.5H573.1" stroke="#e4002b" stroke-width="1.25" fill="none"/>
<circle cx="575.5" cy="374.5" r="2.45" fill="#fff" stroke="#e4002b" stroke-width="1.0"/>
<path d="M532 456.0L537.6 459.2L532 462.4Z" fill="#e4002b"/>
<path d="M534 459.2H546.8000000000001" stroke="#e4002b" stroke-width="1.25" fill="none"/>
<circle cx="549.2" cy="459.2" r="2.45" fill="#fff" stroke="#e4002b" stroke-width="1.0"/>
<path d="M850 365.3L855.6 368.5L850 371.7Z" fill="#e4002b"/>
<path d="M852 368.5H864.6" stroke="#e4002b" stroke-width="1.25" fill="none"/>
<circle cx="867" cy="368.5" r="2.45" fill="#fff" stroke="#e4002b" stroke-width="1.0"/>
<path d="M919.2 408.8L924.8000000000001 412L919.2 415.2Z" fill="#e4002b"/>
<path d="M921.2 412H933.6" stroke="#e4002b" stroke-width="1.25" fill="none"/>
<circle cx="936" cy="412" r="2.45" fill="#fff" stroke="#e4002b" stroke-width="1.0"/>
<path d="M784.5 464.0L790.1 467.2L784.5 470.4Z" fill="#e4002b"/>
<path d="M786.5 467.2H799.3000000000001" stroke="#e4002b" stroke-width="1.25" fill="none"/>
<circle cx="801.7" cy="467.2" r="2.45" fill="#fff" stroke="#e4002b" stroke-width="1.0"/>
<path d="M200.1 417.7H201.29999999999998" stroke="#e4002b" stroke-width="1.1" fill="none"/>
<circle cx="203.7" cy="417.7" r="2.45" fill="#fff" stroke="#e4002b" stroke-width="1.0"/>
</g>
</svg>
<div class="t title" id="t0" style="left:72.0px;top:25.5px;font-size:15.7px;letter-spacing:-0.051px">Figure 3: Region Pairs with Highest Increase in Remote Workers from 2020 to 2023</div>
<div class="t src" id="t1" style="left:72.0px;top:50.9px;font-size:12.2px;letter-spacing:-0.091px">Source: Lightcast and Revelio Labs</div>
<div class="t lgb" id="t2" style="left:890.5px;top:20.1px;font-size:12.2px;letter-spacing:-0.150px">% Growth of</div>
<div class="t lgb" id="t3" style="left:889.5px;top:35.8px;font-size:12.2px;letter-spacing:0.000px">Remote Work</div>
<div class="t red" id="t4" style="left:889.5px;top:98.8px;font-size:11.2px;letter-spacing:0.438px">Living in</div>
<div class="t blkm" id="t5" style="left:960.4px;top:97.8px;font-size:11.2px;letter-spacing:0.356px">Working in</div>
<div class="t big" id="t6" style="left:133.8px;top:141.1px;font-size:28.2px;letter-spacing:-0.900px">313%</div>
<div class="t red" id="t7" style="left:158.0px;top:175.3px;font-size:11.2px;letter-spacing:-0.056px">Central America and</div>
<div class="t red" id="t8" style="left:158.0px;top:188.0px;font-size:11.2px;letter-spacing:-0.042px">the Caribbean</div>
<div class="t blk" id="t9" style="left:253.3px;top:188.0px;font-size:11.2px;letter-spacing:-0.027px">Northern America</div>
<div class="t red" id="t10" style="left:21.3px;top:375.6px;font-size:11.2px;letter-spacing:-0.133px">Southern America</div>
<div class="t blk" id="t11" style="left:47.5px;top:391.7px;font-size:11.2px;letter-spacing:-0.040px">Northern America</div>
<div class="t big" id="t12" style="left:19.8px;top:408.5px;font-size:28.2px;letter-spacing:0.350px">70%</div>
<div class="t red" id="t13" style="left:200.5px;top:387.3px;font-size:11.2px;letter-spacing:-0.056px">Central America and</div>
<div class="t red" id="t14" style="left:200.5px;top:399.7px;font-size:11.2px;letter-spacing:-0.042px">the Caribbean</div>
<div class="t blk" id="t15" style="left:209.3px;top:412.3px;font-size:11.2px;letter-spacing:-0.133px">Southern America</div>
<div class="t big" id="t16" style="left:227.0px;top:425.8px;font-size:28.2px;letter-spacing:0.083px">109%</div>
<div class="t red" id="t17" style="left:195.5px;top:510.5px;font-size:11.2px;letter-spacing:-0.133px">Southern America</div>
<div class="t blk" id="t18" style="left:221.7px;top:523.5px;font-size:11.2px;letter-spacing:-0.114px">Central America</div>
<div class="t blk" id="t19" style="left:221.7px;top:536.5px;font-size:11.2px;letter-spacing:-0.037px">and the Caribbean</div>
<div class="t big" id="t20" style="left:221.1px;top:551.8px;font-size:28.2px;letter-spacing:0.200px">70%</div>
<div class="t big" id="t21" style="left:478.2px;top:239.8px;font-size:28.2px;letter-spacing:0.900px">204%</div>
<div class="t red" id="t22" style="left:504.2px;top:272.7px;font-size:11.2px;letter-spacing:-0.029px">Sub-Saharan Africa</div>
<div class="t blk" id="t23" style="left:530.0px;top:284.7px;font-size:11.2px;letter-spacing:-0.207px">Southern Europe</div>
<div class="t red" id="t24" style="left:547.5px;top:357.7px;font-size:11.2px;letter-spacing:-0.243px">Southern Europe</div>
<div class="t blk" id="t25" style="left:580.5px;top:368.5px;font-size:11.2px;letter-spacing:-0.240px">Arab States</div>
<div class="t big" id="t26" style="left:638.3px;top:354.8px;font-size:28.2px;letter-spacing:0.000px">72%</div>
<div class="t red" id="t27" style="left:530.0px;top:442.2px;font-size:11.2px;letter-spacing:-0.082px">Sub-Saharan Africa</div>
<div class="t blk" id="t28" style="left:554.2px;top:453.5px;font-size:11.2px;letter-spacing:-0.150px">Arab States</div>
<div class="t big" id="t29" style="left:530.3px;top:466.6px;font-size:28.2px;letter-spacing:0.450px">70%</div>
<div class="t big" id="t30" style="left:795.1px;top:318.7px;font-size:28.2px;letter-spacing:-0.067px">100%</div>
<div class="t red" id="t31" style="left:834.0px;top:351.0px;font-size:11.2px;letter-spacing:-0.136px">Eastern Asia</div>
<div class="t blk" id="t32" style="left:874.2px;top:362.7px;font-size:11.2px;letter-spacing:-0.217px">Southern Asia</div>
<div class="t red" id="t33" style="left:848.2px;top:406.7px;font-size:11.2px;letter-spacing:-0.300px">Southern Asia</div>
<div class="t blk" id="t34" style="left:941.3px;top:406.7px;font-size:11.2px;letter-spacing:-0.264px">Eastern Asia</div>
<div class="t big" id="t35" style="left:946.1px;top:418.9px;font-size:28.2px;letter-spacing:0.000px">73%</div>
<div class="t red" id="t36" style="left:782.5px;top:450.5px;font-size:11.2px;letter-spacing:-0.171px">South-Eastern Asia</div>
<div class="t blk" id="t37" style="left:807.0px;top:461.7px;font-size:11.2px;letter-spacing:-0.200px">Southern Asia</div>
<div class="t big" id="t38" style="left:784.7px;top:473.8px;font-size:28.2px;letter-spacing:0.300px">48%</div>
</body></html>
